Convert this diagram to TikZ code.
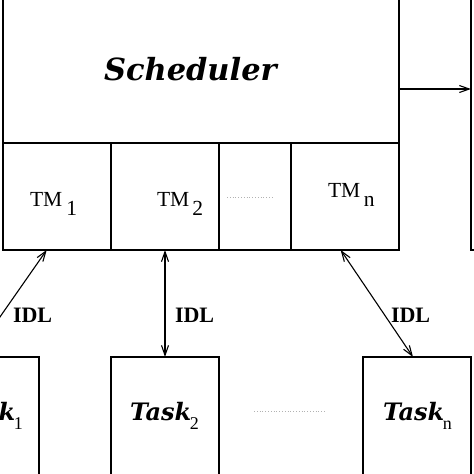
\documentclass[tikz,border=0pt]{standalone}
\usepackage{fontspec}
\setmainfont{Liberation Serif}
\newfontfamily\titlefont{DejaVu Serif}
\usetikzlibrary{arrows.meta}
\begin{document}
\begin{tikzpicture}[x=1pt,y=-1pt,line width=1.1pt,
  >={Straight Barb[length=10pt,width=7pt]},
  box/.style={draw,rectangle,inner sep=0pt,outer sep=0pt,anchor=north west,minimum height=107pt},
  lbl/.style={inner sep=0pt,outer sep=0pt,anchor=base west},
  tmfont/.style={font=\fontsize{21.5}{21.5}\selectfont},
  idlfont/.style={font=\fontsize{22}{22}\selectfont\bfseries},
  taskfont/.style={font=\fontsize{24}{24}\selectfont\titlefont\bfseries\itshape},
  dots/.style={draw=gray!60,dotted,line width=0.8pt}]
\useasboundingbox (0,0) rectangle (474,474);
\clip (0,0) rectangle (474,474);
% scheduler
\node[box,minimum width=396pt,minimum height=153pt] (sched) at (3,-10) {};
\node[lbl,font=\fontsize{30.5}{30.5}\selectfont\titlefont\bfseries\itshape] (schedl) at (104,80) {Scheduler};
% TM row
\node[box,minimum width=108pt] (tm1) at (3,143) {};
\node[box,minimum width=108pt] (tm2) at (111,143) {};
\node[box,minimum width=72pt] (tmd) at (219,143) {};
\node[box,minimum width=108pt] (tmn) at (291,143) {};
\node[lbl,tmfont] (tm1l) at (30,206) {TM\hspace{4pt}\raisebox{-9pt}{1}};
\node[lbl,tmfont] (tm2l) at (157,206) {TM\hspace{3pt}\raisebox{-9pt}{2}};
\node[lbl,tmfont] (tmnl) at (328,197) {TM\hspace{3.5pt}\raisebox{-9pt}{n}};
\draw[dots] (227,197) -- (272,197);
% right box
\node[box,minimum width=60pt,minimum height=260pt] (rbox) at (471,-10) {};
\coordinate (sa) at (399,89);
\draw[->] (sa) -- (sa -| rbox.west);
% tasks
\node[box,minimum width=108pt,minimum height=150pt] (task1) at (-69,357) {};
\node[box,minimum width=108pt,minimum height=150pt] (task2) at (111,357) {};
\node[box,minimum width=108pt,minimum height=150pt] (taskn) at (363,357) {};
\node[lbl,taskfont] (task1l) at (-46,420) {Task\hspace{-1.5pt}\raisebox{-9pt}{\fontsize{18}{18}\selectfont\rmfamily\mdseries\upshape 1}};
\node[lbl,taskfont] (task2l) at (130,420) {Task\hspace{-1.5pt}\raisebox{-9pt}{\fontsize{18}{18}\selectfont\rmfamily\mdseries\upshape 2}};
\node[lbl,taskfont] (tasknl) at (383,420) {Task\hspace{-1.5pt}\raisebox{-9pt}{\fontsize{18}{18}\selectfont\rmfamily\mdseries\upshape n}};
\draw[dots] (254,411) -- (325,411);
% IDL links
\draw[<->] ([xshift=-10.3pt]tm1.south) -- ([xshift=-13pt]task1.north);
\draw[<->] (tm2.south) -- (task2.north);
\draw[<->] ([xshift=-4.3pt]tmn.south) -- ([xshift=-4pt]taskn.north);
\node[lbl,idlfont] (idl1) at (13,322) {IDL};
\node[lbl,idlfont] (idl2) at (175,322) {IDL};
\node[lbl,idlfont] (idl3) at (391,322) {IDL};
\end{tikzpicture}
\end{document}
